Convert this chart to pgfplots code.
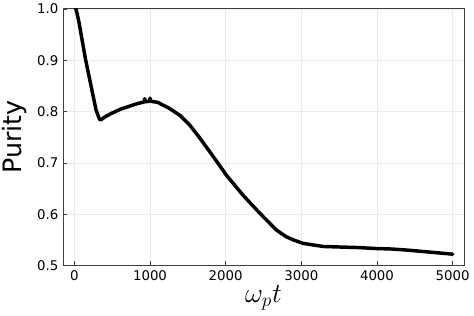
\documentclass[border=0pt]{standalone}
\usepackage{fontspec}
\setmainfont{DejaVu Sans}
\usepackage{pgfplots}
\pgfplotsset{compat=1.18}
\begin{document}
\begin{tikzpicture}
\begin{axis}[
  scale only axis,
  width=300.75pt, height=192.4pt,
  xmin=-150, xmax=5150, ymin=0.5, ymax=1.0,
  xtick={0,1000,2000,3000,4000,5000},
  ytick={0.5,0.6,0.7,0.8,0.9,1.0},
  /pgf/number format/assume math mode=true,
  /pgf/number format/1000 sep={},
  yticklabel style={/pgf/number format/fixed,/pgf/number format/precision=1,/pgf/number format/fixed zerofill},
  ticklabel style={font=\fontsize{10}{10}\selectfont, text=black},
  tick pos=left, tick align=inside, major tick length=3pt,
  tick style={black!75, line width=0.5pt},
  axis line style={black!75, line width=0.7pt},
  grid=major, major grid style={black!8, line width=0.5pt},
  xlabel={$\omega_p t$}, ylabel={Purity},
  every axis x label/.style={at={(rel axis cs:0.5,0)}, yshift=-24pt, anchor=center, font=\fontsize{20}{20}\selectfont},
  every axis y label/.style={at={(rel axis cs:0,0.5)}, xshift=-36.5pt, anchor=center, rotate=90, font=\fontsize{19}{19}\selectfont},
  clip=true,
]
\addplot[black, line width=2.6pt, line join=round, line cap=round] coordinates {
(0,1.010) (30,0.995) (60,0.975) (146,0.903) (287,0.803)
(335,0.784) (350,0.784) (420,0.791) (500,0.797) (600,0.804) (700,0.809) (800,0.814)
(900,0.818) (920,0.818) (930,0.825) (940,0.819) (990,0.820) (1000,0.826) (1010,0.820)
(1100,0.818) (1258,0.806) (1400,0.792) (1523,0.774) (1650,0.750) (1788,0.722)
(1900,0.699) (2009,0.676) (2229,0.637) (2450,0.602) (2671,0.569) (2800,0.556)
(2892,0.550) (3024,0.543) (3289,0.537) (3500,0.536) (3731,0.535) (3996,0.533)
(4200,0.532) (4393,0.530) (4702,0.526) (5000,0.522)
};
\end{axis}
\pgfresetboundingbox
\useasboundingbox (-47.25pt,-37.9pt) rectangle (308.25pt,199.1pt);
\end{tikzpicture}
\end{document}
